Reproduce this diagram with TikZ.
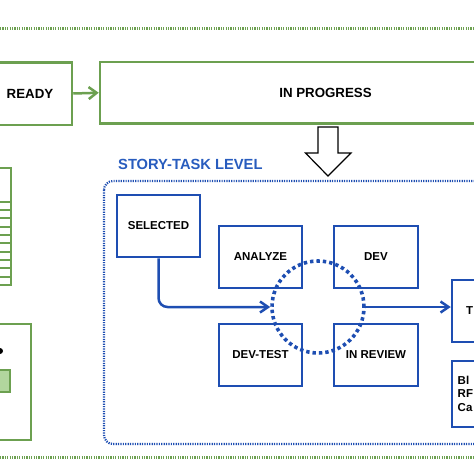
\documentclass[tikz,border=0pt]{standalone}
\usepackage{fontspec}
\setmainfont{Liberation Sans}
\usetikzlibrary{arrows.meta}
\definecolor{kgreen}{RGB}{108,160,80}
\definecolor{kfill}{RGB}{178,214,158}
\definecolor{kblue}{RGB}{30,78,178}
\definecolor{ktext}{RGB}{40,92,190}
\tikzset{
  gbox/.style={draw=kgreen, line width=2.5pt, rectangle, inner sep=0pt},
  bbox/.style={draw=kblue, line width=2.5pt, rectangle, inner sep=0pt, minimum width=83pt, minimum height=62pt, font=\fontsize{11.5}{13.5}\selectfont\bfseries},
  bigtxt/.style={font=\fontsize{13.3}{15}\selectfont\bfseries},
  gdots/.style={draw=kgreen, line width=2.2pt, dash pattern=on 1.2pt off 1.2pt},
  bdots/.style={draw=kblue, line width=2.2pt, dash pattern=on 1.2pt off 1.2pt},
  garrow/.style={draw=kgreen, line width=2.5pt, -{Straight Barb[length=8pt,width=12pt,line width=2.5pt]}},
  barrow/.style={draw=kblue, line width=2.5pt, -{Straight Barb[length=8pt,width=11pt,line width=2.5pt]}},
}
\begin{document}
\begin{tikzpicture}[x=1pt,y=-1pt]
\useasboundingbox (0,0) rectangle (474,474);
\clip (0,0) rectangle (474,474);
% green dotted separators
\coordinate (tl) at (0,28.5);
\coordinate (tr) at (474,28.5);
\coordinate (bl) at (0,457.5);
\coordinate (br) at (474,457.5);
\draw[gdots] (tl) -- (tr);
\draw[gdots] (bl) -- (br);
% top row
\node[gbox, minimum width=84pt, minimum height=62.5pt, bigtxt] (ready) at (30,93.5) {READY};
\node[gbox, minimum width=451pt, minimum height=61.5pt, bigtxt] (prog) at (325.5,92.75) {IN PROGRESS};
\draw[garrow] (ready.east) -- (prog.west);
% block arrow
\draw[black, line width=1.2pt, fill=white] (318,127) -- (338,127) -- (338,153) -- (351,153) -- (328,176) -- (305.5,153) -- (318,153) -- cycle;
% story-task level
\node[font=\fontsize{14.7}{17}\selectfont\bfseries, text=ktext, anchor=west, inner sep=0pt] (title) at (118,164.3) {STORY-TASK LEVEL};
\draw[bdots, rounded corners=9pt] (104,181) rectangle (530,444);
% left striped box
\draw[draw=kgreen, line width=2pt] (-10,168) rectangle (10.5,285);
\foreach \yy in {202,210,218.3,226.7,235,243.3,251.7,260,268.3,276.7}
  \draw[draw=kgreen, line width=2pt] (-10,\yy) -- (10.5,\yy);
% left bottom box
\draw[draw=kgreen, line width=2.5pt] (-10,324) rectangle (31,440);
\fill[black] (0,351) circle (3pt);
\draw[draw=kgreen, line width=1.5pt, fill=kfill] (-10,370) rectangle (10,392);
% story-task boxes
\node[bbox] (sel) at (158.5,226) {SELECTED};
\node[bbox] (ana) at (260.5,257) {ANALYZE};
\node[bbox] (dt) at (260.5,355) {DEV-TEST};
\node[bbox, minimum width=84pt] (dev) at (376,257) {DEV};
\node[bbox, minimum width=84pt] (rev) at (376,355) {IN REVIEW};
\node[bbox, minimum width=90pt] (tbox) at (497,311) {};
\node[font=\fontsize{11.5}{13.5}\selectfont\bfseries, anchor=west, inner sep=0pt] (ttxt) at (466,311) {T};
\node[bbox, minimum width=90pt, minimum height=66pt] (blk) at (497,394) {};
\node[font=\fontsize{11.5}{13.5}\selectfont\bfseries, anchor=west, align=left, inner sep=0pt] (btxt) at (457.5,393.5) {Bl\\RF\\Ca};
% loop circle
\node[circle, draw=kblue, line width=3.6pt, dash pattern=on 3.4pt off 3pt, minimum size=92pt, inner sep=0pt] (loop) at (318,307) {};
% arrows
\draw[barrow, rounded corners=9pt] (sel.south) |- (loop.west);
\draw[barrow] (loop.east) -- (loop.east -| tbox.west);
\end{tikzpicture}
\end{document}
